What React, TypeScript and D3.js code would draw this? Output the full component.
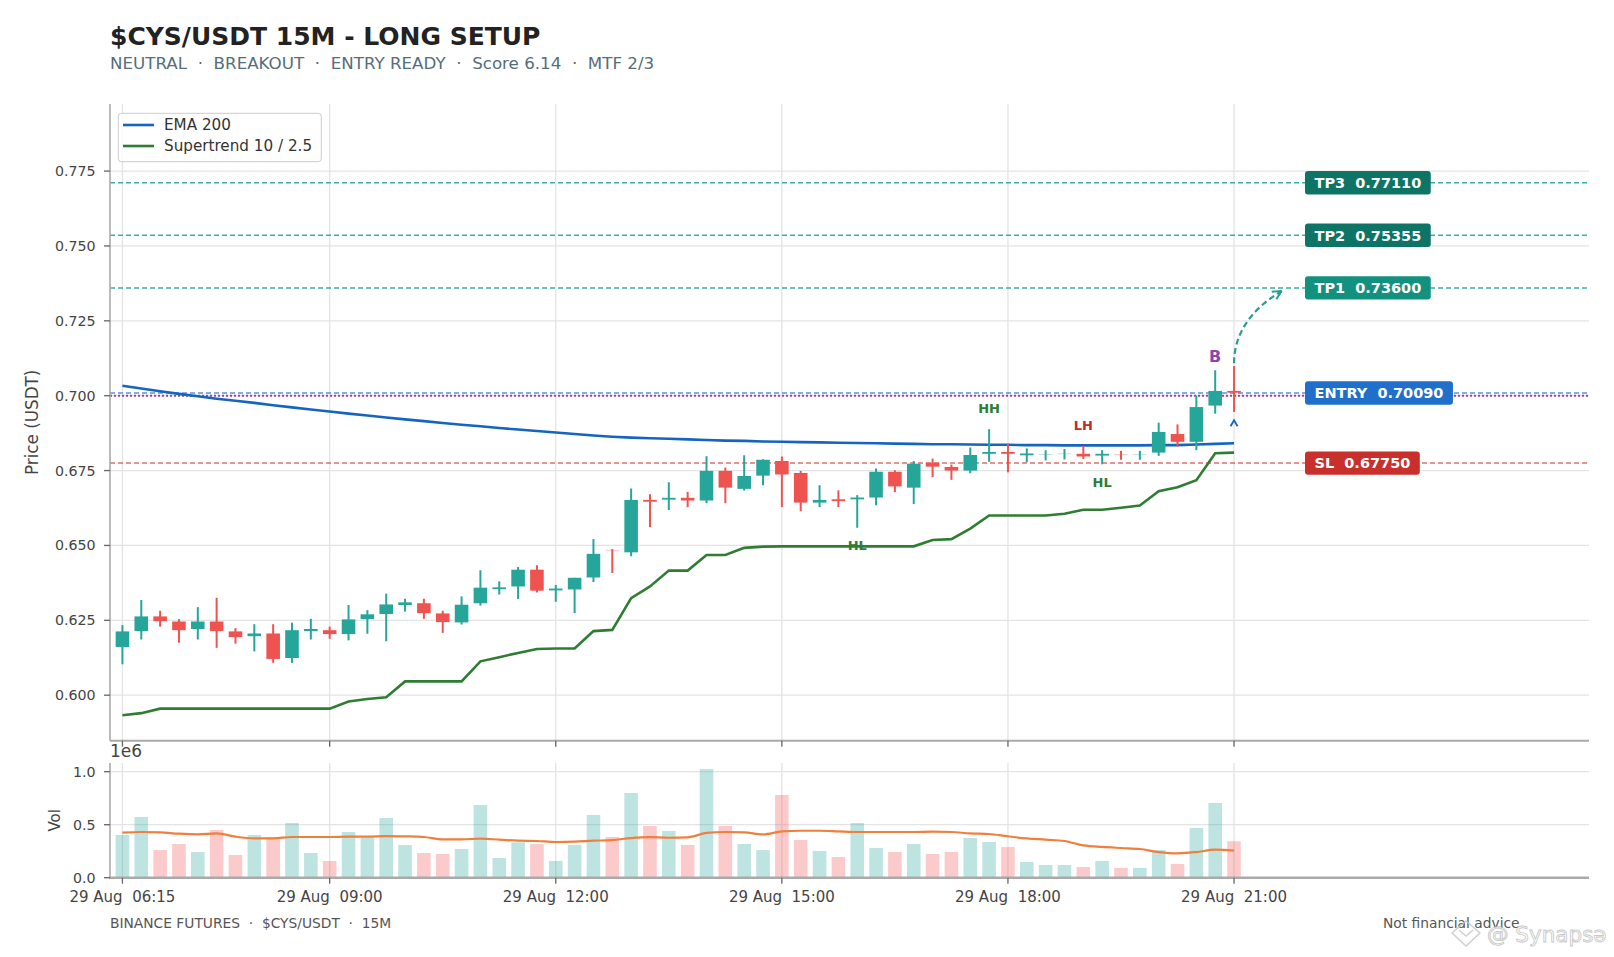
import React, { useEffect, useRef } from 'react';
import * as d3 from 'd3';

// candles, 15m, 29 Aug 06:15 -> 21:00
const opens = [0.6161, 0.6214, 0.6263, 0.6246, 0.6221, 0.6246, 0.6213, 0.6197, 0.6206, 0.6124,
  0.6214, 0.6217, 0.6204, 0.6254, 0.6271, 0.6301, 0.6307, 0.6273, 0.6243, 0.6307,
  0.6356, 0.6363, 0.6419, 0.6350, 0.6353, 0.6393, 0.6485, 0.6477, 0.6652, 0.6653,
  0.6659, 0.6650, 0.6749, 0.6689, 0.6733, 0.6782, 0.6742, 0.6643, 0.6654, 0.6657,
  0.6660, 0.6746, 0.6693, 0.6776, 0.6762, 0.6750, 0.6806, 0.6812, 0.6804, 0.6804,
  0.6805, 0.6806, 0.6801, 0.6803, 0.6802, 0.6810, 0.6872, 0.6846, 0.6967, 0.7016];
const highs = [0.6234, 0.6318, 0.6282, 0.6254, 0.6294, 0.6325, 0.6224, 0.6237, 0.6237, 0.6242,
  0.6255, 0.6229, 0.6301, 0.6284, 0.6339, 0.6322, 0.6322, 0.6282, 0.6330, 0.6417,
  0.6380, 0.6428, 0.6434, 0.6368, 0.6392, 0.6521, 0.6488, 0.6690, 0.6671, 0.6711,
  0.6679, 0.6798, 0.6760, 0.6801, 0.6788, 0.6797, 0.6749, 0.6701, 0.6684, 0.6668,
  0.6757, 0.6751, 0.6782, 0.6790, 0.6770, 0.6827, 0.6888, 0.6838, 0.6824, 0.6818,
  0.6822, 0.6832, 0.6818, 0.6816, 0.6816, 0.6910, 0.6904, 0.7000, 0.7085, 0.7099];
const lows = [0.6103, 0.6186, 0.6229, 0.6175, 0.6186, 0.6158, 0.6172, 0.6146, 0.6108, 0.6108,
  0.6186, 0.6188, 0.6183, 0.6205, 0.6180, 0.6279, 0.6255, 0.6208, 0.6236, 0.6299,
  0.6336, 0.6321, 0.6343, 0.6312, 0.6274, 0.6378, 0.6408, 0.6464, 0.6561, 0.6618,
  0.6628, 0.6641, 0.6641, 0.6683, 0.6701, 0.6628, 0.6614, 0.6628, 0.6628, 0.6559,
  0.6634, 0.6678, 0.6638, 0.6728, 0.6719, 0.6741, 0.6779, 0.6744, 0.6778, 0.6784,
  0.6787, 0.6789, 0.6771, 0.6786, 0.6786, 0.6799, 0.6830, 0.6818, 0.6940, 0.6946];
const closes = [0.6213, 0.6263, 0.6247, 0.6217, 0.6246, 0.6214, 0.6194, 0.6206, 0.6121, 0.6217,
  0.6221, 0.6204, 0.6253, 0.6270, 0.6303, 0.6310, 0.6274, 0.6244, 0.6302, 0.6359,
  0.6360, 0.6419, 0.6349, 0.6356, 0.6392, 0.6472, 0.6484, 0.6652, 0.6649, 0.6659,
  0.6650, 0.6749, 0.6693, 0.6732, 0.6786, 0.6737, 0.6643, 0.6652, 0.6650, 0.6660,
  0.6746, 0.6697, 0.6773, 0.6763, 0.6750, 0.6802, 0.6812, 0.6808, 0.6807, 0.6805,
  0.6806, 0.6797, 0.6806, 0.6802, 0.6803, 0.6879, 0.6846, 0.6962, 0.7016, 0.7012];

// volume in millions
const volumes = [0.403, 0.573, 0.261, 0.318, 0.242, 0.450, 0.214, 0.403, 0.381, 0.516,
  0.233, 0.158, 0.431, 0.381, 0.563, 0.308, 0.233, 0.224, 0.271, 0.686,
  0.186, 0.334, 0.318, 0.158, 0.308, 0.592, 0.384, 0.799, 0.488, 0.441,
  0.308, 1.025, 0.488, 0.318, 0.261, 0.780, 0.356, 0.252, 0.195, 0.516,
  0.280, 0.242, 0.318, 0.224, 0.242, 0.375, 0.337, 0.290, 0.148, 0.120,
  0.120, 0.101, 0.158, 0.092, 0.092, 0.261, 0.129, 0.469, 0.705, 0.343];
const volumeMA = [0.425, 0.431, 0.428, 0.415, 0.409, 0.418, 0.387, 0.371, 0.371, 0.384,
  0.384, 0.384, 0.387, 0.387, 0.393, 0.390, 0.384, 0.362, 0.362, 0.368,
  0.359, 0.349, 0.346, 0.337, 0.340, 0.349, 0.355, 0.374, 0.382, 0.377,
  0.381, 0.422, 0.431, 0.428, 0.409, 0.437, 0.443, 0.443, 0.437, 0.431,
  0.431, 0.431, 0.431, 0.434, 0.431, 0.418, 0.412, 0.390, 0.371, 0.359,
  0.346, 0.305, 0.290, 0.280, 0.271, 0.242, 0.230, 0.242, 0.264, 0.255];

const ema200 = [0.7033, 0.7024, 0.7015, 0.7006, 0.6998, 0.6990, 0.6983, 0.6976, 0.6968, 0.6961,
  0.6954, 0.6947, 0.6940, 0.6934, 0.6927, 0.6921, 0.6915, 0.6909, 0.6903, 0.6898,
  0.6892, 0.6887, 0.6882, 0.6877, 0.6872, 0.6867, 0.6863, 0.6860, 0.6858, 0.6856,
  0.6854, 0.6852, 0.6850, 0.6849, 0.6847, 0.6846, 0.6845, 0.6844, 0.6843, 0.6842,
  0.6841, 0.6840, 0.6839, 0.6838, 0.6838, 0.6837, 0.6836, 0.6836, 0.6835, 0.6835,
  0.6834, 0.6834, 0.6834, 0.6834, 0.6834, 0.6835, 0.6835, 0.6837, 0.6839, 0.6841];
const supertrend = [0.5933, 0.5940, 0.5955, 0.5955, 0.5955, 0.5955, 0.5955, 0.5955, 0.5955, 0.5955,
  0.5955, 0.5955, 0.5979, 0.5987, 0.5993, 0.6046, 0.6046, 0.6046, 0.6046, 0.6113,
  0.6127, 0.6141, 0.6154, 0.6156, 0.6156, 0.6214, 0.6218, 0.6324, 0.6363, 0.6416,
  0.6416, 0.6468, 0.6468, 0.6492, 0.6496, 0.6497, 0.6497, 0.6497, 0.6497, 0.6497,
  0.6497, 0.6497, 0.6497, 0.6518, 0.6521, 0.6556, 0.6600, 0.6600, 0.6600, 0.6600,
  0.6606, 0.6619, 0.6619, 0.6626, 0.6633, 0.6681, 0.6694, 0.6718, 0.6808, 0.6810];

const tickIndex = [0, 11, 23, 35, 47, 59];
const tickLabels = ['29 Aug  06:15', '29 Aug  09:00', '29 Aug  12:00', '29 Aug  15:00', '29 Aug  18:00', '29 Aug  21:00'];
const priceTicks = [0.600, 0.625, 0.650, 0.675, 0.700, 0.725, 0.750, 0.775];
const volumeTicks = [0, 0.5, 1.0];

const levelNames = ['TP3', 'TP2', 'TP1', 'ENTRY', 'SL'];
const levelPrices = [0.7711, 0.75355, 0.736, 0.7009, 0.6775];
const breakoutLevel = 0.7000;

const swingNames = ['HL', 'HH', 'LH', 'HL'];
const swingIndex = [39, 46, 51, 52];
const swingPrices = [0.6500, 0.6957, 0.6902, 0.6711];

const UP = '#26a69a';
const DOWN = '#ef5350';
const FONT = 'DejaVu Sans, sans-serif';

const CandleChart = () => {
  const chartRef = useRef(null);

  useEffect(() => {
    const W = 1614;
    const H = 957;
    const svg = d3.select(chartRef.current)
      .attr('width', W)
      .attr('height', H)
      .style('background', '#ffffff')
      .style('font-family', FONT);

    svg.selectAll('*').remove();

    const left = 110, right = 1589;
    const pTop = 104, pBot = 740.7;
    const vTop = 763, vBot = 877.7;
    const n = closes.length;

    const x = d3.scaleLinear().domain([-0.66, 77.84]).range([left, right]);
    const y = d3.scaleLinear().domain([0.5848, 0.7974]).range([pBot, pTop]);
    const yv = d3.scaleLinear().domain([0, 1.082]).range([vBot, vTop]);
    const step = x(1) - x(0);
    const bw = step * 0.72;

    // title block
    svg.append('text').attr('x', 110).attr('y', 44.5)
      .text('$CYS/USDT 15M - LONG SETUP')
      .style('font-size', '25px').style('font-weight', 'bold').style('fill', '#222');
    svg.append('text').attr('x', 110).attr('y', 69)
      .style('white-space', 'pre')
      .text('NEUTRAL  ·  BREAKOUT  ·  ENTRY READY  ·  Score 6.14  ·  MTF 2/3')
      .style('font-size', '16.7px').style('fill', '#546e7a');

    // grid
    const grid = svg.append('g').attr('stroke', '#e4e4e4').attr('stroke-width', 1.3);
    priceTicks.forEach(t => {
      grid.append('line').attr('x1', left).attr('x2', right).attr('y1', y(t)).attr('y2', y(t));
    });
    volumeTicks.slice(1).forEach(t => {
      grid.append('line').attr('x1', left).attr('x2', right).attr('y1', yv(t)).attr('y2', yv(t));
    });
    tickIndex.forEach(i => {
      grid.append('line').attr('x1', x(i)).attr('x2', x(i)).attr('y1', pTop).attr('y2', pBot);
      grid.append('line').attr('x1', x(i)).attr('x2', x(i)).attr('y1', vTop).attr('y2', vBot);
    });

    // level lines
    const levelColor = (name) => name.startsWith('TP') ? UP : name === 'ENTRY' ? '#1565c0' : '#d32f2f';
    levelNames.forEach((name, k) => {
      svg.append('line')
        .attr('x1', left).attr('x2', right)
        .attr('y1', y(levelPrices[k])).attr('y2', y(levelPrices[k]))
        .attr('stroke', levelColor(name))
        .attr('stroke-opacity', name.startsWith('TP') ? 0.9 : 0.7)
        .attr('stroke-width', 1.5)
        .attr('stroke-dasharray', '5,3');
    });
    svg.append('line')
      .attr('x1', left).attr('x2', right)
      .attr('y1', y(breakoutLevel)).attr('y2', y(breakoutLevel))
      .attr('stroke', '#8e44ad').attr('stroke-width', 2)
      .attr('stroke-dasharray', '2,2');

    // EMA + supertrend
    const line = d3.line<number>().x((d, i) => x(i)).y(d => y(d));
    svg.append('path').attr('d', line(ema200))
      .attr('fill', 'none').attr('stroke', '#1565c0').attr('stroke-width', 2.6);
    svg.append('path').attr('d', line(supertrend))
      .attr('fill', 'none').attr('stroke', '#2e7d32').attr('stroke-width', 2.6);

    // candles
    const candles = svg.append('g');
    closes.forEach((c, i) => {
      const o = opens[i];
      const col = c >= o ? UP : DOWN;
      candles.append('line')
        .attr('x1', x(i)).attr('x2', x(i))
        .attr('y1', y(highs[i])).attr('y2', y(lows[i]))
        .attr('stroke', col).attr('stroke-width', 2);
      const top = y(Math.max(o, c));
      let h = Math.abs(y(o) - y(c));
      if (Math.abs(o - c) >= 0.0002) h = Math.max(h, 1.8);
      candles.append('rect')
        .attr('x', x(i) - bw / 2).attr('width', bw)
        .attr('y', top).attr('height', h)
        .attr('fill', col);
    });

    // swing labels
    swingNames.forEach((s, k) => {
      svg.append('text')
        .attr('x', x(swingIndex[k])).attr('y', y(swingPrices[k]))
        .attr('dy', '0.35em').attr('text-anchor', 'middle')
        .text(s)
        .style('font-size', '13px').style('font-weight', 'bold')
        .style('fill', s === 'LH' ? '#c62828' : '#2e7d32');
    });

    // breakout marker
    svg.append('text')
      .attr('x', x(n - 2)).attr('y', y(0.7130)).attr('dy', '0.35em')
      .attr('text-anchor', 'middle').text('B')
      .style('font-size', '16px').style('font-weight', 'bold').style('fill', '#8e44ad');
    const cx = x(n - 1), cy = y(0.6908);
    svg.append('path')
      .attr('d', `M${cx - 3.5},${cy + 3} L${cx},${cy - 3} L${cx + 3.5},${cy + 3}`)
      .attr('fill', 'none').attr('stroke', '#1565c0').attr('stroke-width', 1.8);

    // projection arrow to TP1
    const x0 = x(n - 1), y0 = y(0.7108);
    const x1 = x(61.53), y1 = y(0.7350);
    const qx = x0, qy = y0 - 0.6 * (y0 - y1);
    svg.append('path')
      .attr('d', `M${x0},${y0} Q${qx},${qy} ${x1},${y1}`)
      .attr('fill', 'none').attr('stroke', '#2a9d8f').attr('stroke-width', 2.2)
      .attr('stroke-dasharray', '6,3.5');
    const ang = Math.atan2(y1 - qy, x1 - qx);
    const hl = 10;
    const head = [ang + Math.PI - 0.45, ang + Math.PI + 0.45]
      .map(a => `M${x1 + hl * Math.cos(a)},${y1 + hl * Math.sin(a)} L${x1},${y1}`).join(' ');
    svg.append('path').attr('d', head)
      .attr('fill', 'none').attr('stroke', '#2a9d8f').attr('stroke-width', 2);

    // level labels
    const boxColor = { TP3: '#0e7466', TP2: '#0e7466', TP1: '#13917f', ENTRY: '#1f6fcb', SL: '#c9302c' };
    levelNames.forEach((name, k) => {
      const ly = y(levelPrices[k]);
      const g = svg.append('g');
      const rect = g.append('rect');
      const txt = g.append('text')
        .attr('x', 1314.5).attr('y', ly).attr('dy', '0.36em')
        .style('white-space', 'pre')
        .text(`${name}  ${levelPrices[k].toFixed(5)}`)
        .style('font-size', '14.5px').style('font-weight', 'bold').style('fill', '#fff');
      const tw = (txt.node() as SVGTextElement).getComputedTextLength();
      rect.attr('x', 1305).attr('y', ly - 11.7).attr('width', tw + 19).attr('height', 23.4)
        .attr('rx', 3).attr('fill', boxColor[name]);
    });

    // volume
    const vol = svg.append('g');
    volumes.forEach((v, i) => {
      vol.append('rect')
        .attr('x', x(i) - bw / 2).attr('width', bw)
        .attr('y', yv(v)).attr('height', vBot - yv(v))
        .attr('fill', closes[i] >= opens[i] ? UP : DOWN)
        .attr('fill-opacity', 0.3);
    });
    const vline = d3.line<number>().x((d, i) => x(i)).y(d => yv(d)).curve(d3.curveMonotoneX);
    svg.append('path').attr('d', vline(volumeMA))
      .attr('fill', 'none').attr('stroke', '#f07f3c').attr('stroke-width', 2.2);

    // spines
    const spine = svg.append('g').attr('stroke', '#aaaaaa');
    spine.append('line').attr('x1', left).attr('x2', left).attr('y1', pTop).attr('y2', pBot).attr('stroke-width', 1.6);
    spine.append('line').attr('x1', left).attr('x2', right).attr('y1', pBot).attr('y2', pBot).attr('stroke-width', 2);
    spine.append('line').attr('x1', left).attr('x2', left).attr('y1', vTop).attr('y2', vBot).attr('stroke-width', 1.6);
    spine.append('line').attr('x1', left - 1).attr('x2', right).attr('y1', vBot).attr('y2', vBot).attr('stroke-width', 2.6);

    // ticks + labels
    const ticks = svg.append('g').attr('stroke', '#666').attr('stroke-width', 1.3);
    const labels = svg.append('g').style('fill', '#444');
    priceTicks.forEach(t => {
      ticks.append('line').attr('x1', left - 6).attr('x2', left).attr('y1', y(t)).attr('y2', y(t));
      labels.append('text').attr('x', 95.5).attr('y', y(t)).attr('dy', '0.35em')
        .attr('text-anchor', 'end').text(d3.format('.3f')(t)).style('font-size', '14.2px');
    });
    volumeTicks.forEach(t => {
      ticks.append('line').attr('x1', left - 6).attr('x2', left).attr('y1', yv(t)).attr('y2', yv(t));
      labels.append('text').attr('x', 95.5).attr('y', yv(t)).attr('dy', '0.35em')
        .attr('text-anchor', 'end').text(d3.format('.1f')(t)).style('font-size', '14.2px');
    });
    tickIndex.forEach((i, k) => {
      ticks.append('line').attr('x1', x(i)).attr('x2', x(i)).attr('y1', pBot).attr('y2', pBot + 6);
      ticks.append('line').attr('x1', x(i)).attr('x2', x(i)).attr('y1', vBot).attr('y2', vBot + 6);
      labels.append('text').attr('x', x(i)).attr('y', 902).attr('text-anchor', 'middle')
        .style('white-space', 'pre').text(tickLabels[k]).style('font-size', '15px');
    });
    labels.append('text').attr('x', 110).attr('y', 757).text('1e6').style('font-size', '17px');
    labels.append('text').attr('transform', `translate(38,${(pTop + pBot) / 2}) rotate(-90)`)
      .attr('text-anchor', 'middle').text('Price (USDT)').style('font-size', '16.8px');
    labels.append('text').attr('transform', `translate(60,${(vTop + vBot) / 2}) rotate(-90)`)
      .attr('text-anchor', 'middle').text('Vol').style('font-size', '15px');

    // legend
    const lg = svg.append('g');
    lg.append('rect').attr('x', 118.3).attr('y', 113.3).attr('width', 203).attr('height', 48.4)
      .attr('rx', 3).attr('fill', '#fff').attr('fill-opacity', 0.85)
      .attr('stroke', '#cccccc').attr('stroke-width', 1);
    [['EMA 200', '#1565c0', 125], ['Supertrend 10 / 2.5', '#2e7d32', 146]].forEach(([label, col, ly]) => {
      lg.append('line').attr('x1', 123).attr('x2', 154).attr('y1', ly).attr('y2', ly)
        .attr('stroke', col).attr('stroke-width', 2.6);
      lg.append('text').attr('x', 164).attr('y', ly).attr('dy', '0.35em').text(label)
        .style('font-size', '15.2px').style('fill', '#333');
    });

    // footer
    svg.append('text').attr('x', 110).attr('y', 928).style('white-space', 'pre')
      .text('BINANCE FUTURES  ·  $CYS/USDT  ·  15M')
      .style('font-size', '13.8px').style('fill', '#555');
    svg.append('text').attr('x', 1383).attr('y', 928)
      .text('Not financial advice').style('font-size', '13.8px').style('fill', '#555');

    // watermark
    const wm = svg.append('g').attr('opacity', 0.8);
    wm.append('path')
      .attr('d', 'M1466,921 L1480,933 L1466,946 L1452,933 Z M1459,930 L1466,936 L1473,930')
      .attr('fill', 'none').attr('stroke', '#c4c4c4').attr('stroke-width', 1.4);
    wm.append('text').attr('x', 1487).attr('y', 942).text('@ Synapsə')
      .style('font-size', '21.5px').style('fill', '#ffffff')
      .style('stroke', '#bdbdbd').style('stroke-width', 0.9);
  }, []);

  return (
    <svg ref={chartRef} style={{ position: 'absolute', left: 0, top: 0, display: 'block' }}></svg>
  );
};

export default function App() {
  return <CandleChart />;
}
